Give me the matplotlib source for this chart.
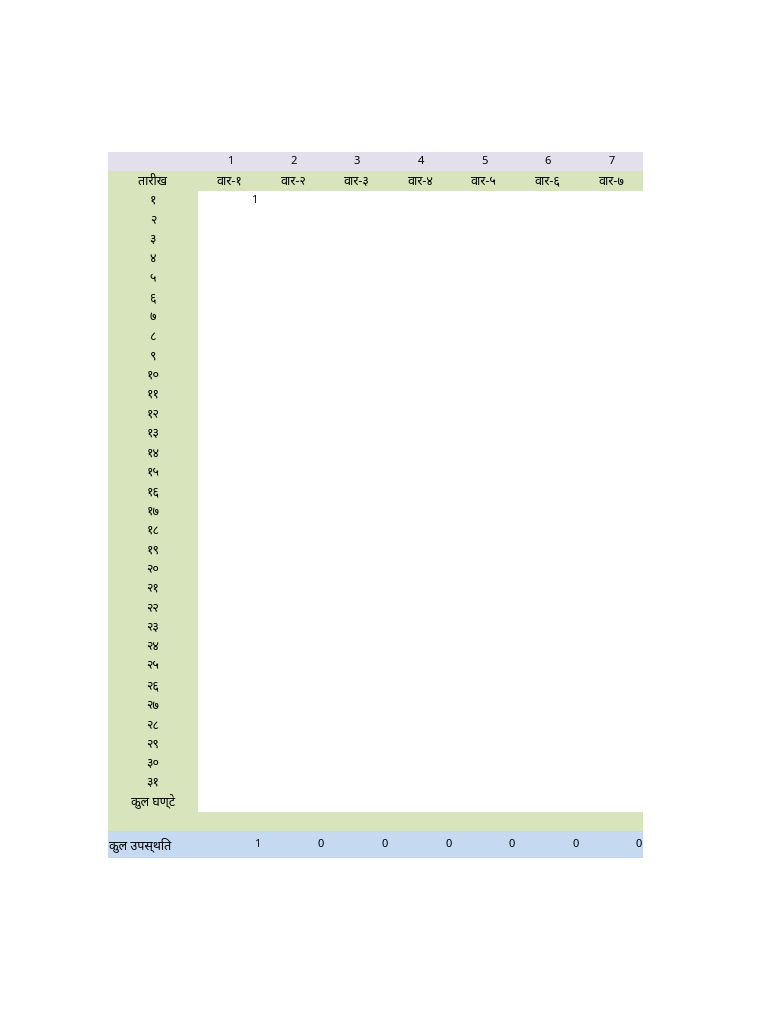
import matplotlib.pyplot as plt
from matplotlib.patches import Rectangle

# Column numbers, header texts, day labels (Devanagari digits) and totals
col_numbers = ["1", "2", "3", "4", "5", "6", "7"]
col_headers = ["वार-१", "वार-२", "वार-३", "वार-४", "वार-५", "वार-६", "वार-७"]
corner_label = "तारीख"
dev = "०१२३४५६७८९"
day_labels = ["".join(dev[int(c)] for c in str(d)) for d in range(1, 32)]
extra_row_label = "कुल घण्टे"
day_values = {(0, 0): 1}  # (day index, column index) -> value
total_label = "कुल उपस्थित"
totals = [1, 0, 0, 0, 0, 0, 0]

PURPLE = "#E4DFEC"
GREEN = "#D8E4BC"
BLUE = "#C5D9F1"

plt.rcParams["font.family"] = ["Noto Sans", "DejaVu Sans"]

fig = plt.figure(figsize=(7.68, 10.24), dpi=100)
ax = fig.add_axes([0, 0, 1, 1])
ax.set_xlim(0, 768)
ax.set_ylim(1024, 0)
ax.axis("off")

left, label_w, col_w = 108, 90, 63.6
top, row_h = 152, 19.4
fs = 8
x0 = left + label_w
right = x0 + col_w * len(col_numbers)

# row of column numbers
ax.add_patch(Rectangle((left, top), right - left, row_h, color=PURPLE, lw=0))
for i, n in enumerate(col_numbers):
    ax.text(x0 + col_w * (i + 0.5), top + row_h / 2, n, ha="center", va="center", fontsize=fs)

# header row
y = top + row_h
ax.add_patch(Rectangle((left, y), right - left, row_h, color=GREEN, lw=0))
ax.text(left + label_w / 2, y + row_h / 2, corner_label, ha="center", va="center", fontsize=fs + 1)
for i, h in enumerate(col_headers):
    ax.text(x0 + col_w * (i + 0.5), y + row_h / 2, h, ha="center", va="center", fontsize=fs + 1)

# day rows
y += row_h
labels = day_labels + [extra_row_label]
ax.add_patch(Rectangle((left, y), label_w, row_h * len(labels), color=GREEN, lw=0))
for r, lab in enumerate(labels):
    yc = y + row_h * (r + 0.5)
    ax.text(left + label_w / 2, yc, lab, ha="center", va="center", fontsize=fs + 1)
for (r, c), v in day_values.items():
    ax.text(x0 + col_w * (c + 1) - 4, y + row_h * (r + 0.5), str(v),
            ha="right", va="center", fontsize=fs)

# blank green row
y += row_h * len(labels)
ax.add_patch(Rectangle((left, y), right - left, row_h, color=GREEN, lw=0))

# totals row
y += row_h
th = 27
ax.add_patch(Rectangle((left, y), right - left, th, color=BLUE, lw=0))
ax.text(left + 1, y + th / 2, total_label, ha="left", va="center", fontsize=fs + 1)
for i, v in enumerate(totals):
    ax.text(x0 + col_w * (i + 1) - 1, y + th / 2, str(v), ha="right", va="center", fontsize=fs)

fig.savefig("out.png", dpi=100)
